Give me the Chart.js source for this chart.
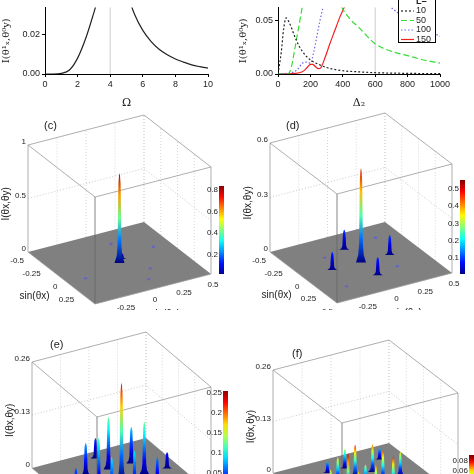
<!DOCTYPE html>
<html>
<head>
<meta charset="utf-8">
<script src="https://cdn.jsdelivr.net/npm/chart.js@4/dist/chart.umd.min.js"></script>
<style>
body { margin: 0; background: #fff; width: 474px; height: 474px; overflow: hidden; position: relative; }
.p { position: absolute; }
</style>
</head>
<body>
<div class="p" style="left:0;top:0;width:220px;height:110px"><canvas id="a"></canvas></div>
<div class="p" style="left:237px;top:0;width:237px;height:110px"><canvas id="b"></canvas></div>
<div class="p" style="left:0;top:110px;width:237px;height:200px"><canvas id="c"></canvas></div>
<div class="p" style="left:237px;top:110px;width:237px;height:200px"><canvas id="d"></canvas></div>
<div class="p" style="left:0;top:310px;width:237px;height:164px"><canvas id="e"></canvas></div>
<div class="p" style="left:237px;top:310px;width:237px;height:164px"><canvas id="f"></canvas></div>
<script>
const FONT = 'Liberation Sans'

// panel (a)
const omega = [0, 0.5, 1, 1.5, 2, 2.5, 3, 3.5, 4, 4.3, 4.6, 5, 5.5, 6, 6.5, 7, 7.5, 8, 8.5, 9, 9.5, 10]
const a_vals = [0, 0, 0.0003, 0.002, 0.008, 0.018, 0.031, 0.045, 0.057, 0.06, 0.056, 0.042, 0.030, 0.022, 0.0165, 0.0125, 0.0097, 0.0076, 0.006, 0.0046, 0.0037, 0.003]
const a_yticks = [0, 0.02]

// panel (b)
const b_labels = ['10', '50', '100', '150']
const b_yticks = [0, 0.05]
const b_x10 = [0, 20, 35, 50, 65, 80, 100, 130, 160, 200, 250, 300, 400, 500, 600, 800, 1000]
const b_y10 = [0, 0.02, 0.042, 0.052, 0.049, 0.044, 0.036, 0.026, 0.019, 0.013, 0.009, 0.006, 0.003, 0.002, 0.0012, 0.0006, 0.0003]
const b_x50 = [0, 60, 80, 100, 115, 130, 150, 200, 250, 300, 350, 400, 450, 500, 600, 700, 800, 900, 1000]
const b_y50 = [0, 0, 0.005, 0.02, 0.033, 0.045, 0.062, 0.09, 0.1, 0.09, 0.075, 0.06, 0.05, 0.043, 0.028, 0.021, 0.017, 0.013, 0.010]
const b_x100 = [0, 100, 130, 150, 180, 200, 220, 240, 260, 280, 320, 400, 500, 600, 800, 1000]
const b_y100 = [0, 0.002, 0.006, 0.01, 0.011, 0.01, 0.02, 0.035, 0.05, 0.063, 0.085, 0.1, 0.09, 0.075, 0.05, 0.035]
const b_x150 = [0, 100, 150, 180, 200, 215, 230, 250, 265, 290, 320, 350, 380, 410, 450, 500, 600]
const b_y150 = [0, 0.0005, 0.002, 0.006, 0.009, 0.009, 0.007, 0.005, 0.006, 0.015, 0.028, 0.04, 0.052, 0.062, 0.075, 0.09, 0.1]

// panels (c)-(f): peaks as [sin(θx), sin(θy), I]
const c_peaks = [[0, 0, 0.84], [-0.05, 0.05, 0.05], [-0.3, 0.1, 0.02], [0.1, -0.35, 0.015], [-0.1, 0.35, 0.015], [0.35, 0.05, 0.015], [0.2, 0.15, 0.02]]
const d_peaks = [[0, 0, 0.52], [0, -0.25, 0.1], [-0.25, 0, 0.11], [0.25, 0, 0.1], [0, 0.25, 0.11], [-0.3, 0.3, 0.01], [0.3, -0.3, 0.01], [0.2, 0.2, 0.015], [-0.2, -0.2, 0.015]]
const e_peaks = [[0, 0, 0.24], [-0.2, 0, 0.13], [0.2, 0, 0.1], [0, -0.2, 0.12], [0, 0.2, 0.13], [-0.2, -0.2, 0.08], [0.2, 0.2, 0.07], [-0.2, 0.2, 0.09], [0.2, -0.2, 0.1], [-0.4, 0, 0.05], [0, -0.4, 0.06], [0.4, 0, 0.05], [0, 0.4, 0.04]]
const f_peaks = [[0, 0, 0.05], [-0.15, 0, 0.08], [0.15, 0, 0.07], [0, -0.15, 0.09], [0, 0.15, 0.075], [-0.15, -0.15, 0.06], [0.15, 0.15, 0.08], [-0.15, 0.15, 0.07], [0.15, -0.15, 0.065], [-0.3, 0, 0.05], [0, -0.3, 0.06], [0.3, 0, 0.055], [0, 0.3, 0.06], [-0.3, 0.3, 0.03], [0.3, -0.3, 0.03], [-0.3, -0.15, 0.03], [0.3, 0.15, 0.04]]
const sin_ticks = ['-0.5', '-0.25', '0', '0.25', '0.5']

function jet(t) {
    t = Math.max(0, Math.min(1, t))
    const r = Math.max(0, Math.min(1, 1.5 - Math.abs(4 * t - 3)))
    const g = Math.max(0, Math.min(1, 1.5 - Math.abs(4 * t - 2)))
    const b = Math.max(0, Math.min(1, 1.5 - Math.abs(4 * t - 1)))
    return `rgb(${Math.round(r * 255)},${Math.round(g * 255)},${Math.round(b * 255)})`
}

function centerLine(val) {
    return {
        id: 'centerLine',
        beforeDatasetsDraw(chart) {
            const x = chart.scales.x.getPixelForValue(val)
            const { top, bottom } = chart.chartArea
            const ctx = chart.ctx
            ctx.save()
            ctx.strokeStyle = '#ccc'
            ctx.lineWidth = 1
            ctx.beginPath(); ctx.moveTo(x, top); ctx.lineTo(x, bottom); ctx.stroke()
            ctx.restore()
        }
    }
}

function lineScales(xmin, xmax, xstep, ymax, yticks, yw, xtitle, ytitle) {
    return {
        x: {
            type: 'linear', min: xmin, max: xmax,
            ticks: { stepSize: xstep, color: '#222', font: { family: FONT, size: 9 }, padding: 2, callback: (v) => String(v) },
            grid: { display: true, drawOnChartArea: false, color: '#000', tickLength: 3 },
            border: { color: '#000' },
            title: { display: true, text: xtitle, color: '#222', font: { family: 'DejaVu Serif', size: 11 }, padding: 0 },
            afterFit: (s) => { s.height = 36 }
        },
        y: {
            min: 0, max: ymax,
            afterBuildTicks: (s) => { s.ticks = yticks.map((v) => ({ value: v })) },
            ticks: { color: '#222', font: { family: FONT, size: 9 }, padding: 2, callback: (v) => v.toFixed(2) },
            grid: { display: true, drawOnChartArea: false, color: '#000', tickLength: 3 },
            border: { color: '#000' },
            title: { display: true, text: ytitle, color: '#222', font: { family: 'DejaVu Serif', size: 10 }, padding: 0 },
            afterFit: (s) => { s.width = yw }
        }
    }
}

new Chart(document.querySelector('#a'), {
    type: 'line',
    data: {
        datasets: [{ data: omega.map((x, i) => ({ x, y: a_vals[i] })), borderColor: '#222', borderWidth: 1.2, pointRadius: 0, cubicInterpolationMode: 'monotone' }]
    },
    options: {
        animation: false, responsive: true, maintainAspectRatio: false,
        layout: { padding: { top: 0, right: 12, left: 0, bottom: 0 } },
        plugins: { legend: { display: false }, tooltip: { enabled: false } },
        scales: lineScales(0, 10, 2, 0.0336, a_yticks, 45, 'Ω', 'I(θ¹ₓ,θ⁰y)')
    },
    plugins: [centerLine(4)]
})

const b_series = [
    { x: b_x10, y: b_y10, color: '#222', dash: [2, 2] },
    { x: b_x50, y: b_y50, color: '#33dd33', dash: [6, 3] },
    { x: b_x100, y: b_y100, color: '#6666ee', dash: [1.5, 2] },
    { x: b_x150, y: b_y150, color: '#ee2222', dash: [] },
]

const legendB = {
    id: 'legendB',
    afterDraw(chart) {
        const ctx = chart.ctx
        const x0 = 398 - 237, y0 = -2, w = 37, h = 44
        ctx.save()
        ctx.fillStyle = '#fff'
        ctx.fillRect(x0, y0, w, h)
        ctx.strokeStyle = '#000'
        ctx.lineWidth = 1
        ctx.strokeRect(x0 + 0.5, y0 + 0.5, w, h)
        ctx.font = `bold 9px ${FONT}`
        ctx.fillStyle = '#222'
        ctx.textBaseline = 'middle'
        ctx.fillText('L=', x0 + 18, 2)
        ctx.font = `9px ${FONT}`
        chart.data.datasets.forEach((ds, i) => {
            const y = 11 + i * 9.5
            ctx.strokeStyle = ds.borderColor
            ctx.setLineDash(ds.borderDash)
            ctx.lineWidth = 1.2
            ctx.beginPath(); ctx.moveTo(x0 + 3, y); ctx.lineTo(x0 + 16, y); ctx.stroke()
            ctx.setLineDash([])
            ctx.fillText(ds.label, x0 + 18, y)
        })
        ctx.restore()
    }
}

new Chart(document.querySelector('#b'), {
    type: 'line',
    data: {
        datasets: b_series.map((s, i) => ({
            label: b_labels[i],
            data: s.x.map((x, j) => ({ x, y: s.y[j] })),
            borderColor: s.color, borderDash: s.dash, borderWidth: 1.2, pointRadius: 0,
            cubicInterpolationMode: 'monotone'
        }))
    },
    options: {
        animation: false, responsive: true, maintainAspectRatio: false,
        layout: { padding: { top: 0, right: 34, left: 0, bottom: 0 } },
        plugins: { legend: { display: false }, tooltip: { enabled: false } },
        scales: lineScales(0, 1000, 200, 0.0617, b_yticks, 41, 'Δ₂', 'I(θ¹ₓ,θ⁰y)')
    },
    plugins: [centerLine(600), legendB]
})

// 3D panels
const panels = [
    { id: 'c', ox: 0, oy: 110, w: 237, h: 200, peaks: c_peaks, L: [28, 252], FL: [67, 52], RF: [116, -30], hz: 107, zmax: 1, zticks: ['0', '0.5', '1'], cmax: 0.85,
      bar: { x: 219, top: 186, vtop: 0.84, bottom: 274, vbot: 0.02, ticks: [0.2, 0.4, 0.6, 0.8] }, tag: '(c)', tagPos: [44, 126], bw: 5 },
    { id: 'd', ox: 237, oy: 110, w: 237, h: 200, peaks: d_peaks, L: [270, 252], FL: [67, 51], RF: [115, -30], hz: 109, zmax: 0.6, zticks: ['0', '0.3', '0.6'], cmax: 0.55,
      bar: { x: 460, top: 180, vtop: 0.55, bottom: 274, vbot: 0.008, ticks: [0.1, 0.2, 0.3, 0.4, 0.5] }, tag: '(d)', tagPos: [286, 126], bw: 5 },
    { id: 'e', ox: 0, oy: 310, w: 237, h: 164, peaks: e_peaks, L: [32, 468], FL: [65, 55], RF: [114, -30], hz: 106, zmax: 0.26, zticks: ['0', '0.13', '0.26'], cmax: 0.26,
      bar: { x: 223, top: 391, vtop: 0.255, bottom: 480, vbot: 0.033, ticks: [0.05, 0.1, 0.15, 0.2, 0.25] }, tag: '(e)', tagPos: [50, 345], bw: 5 },
    { id: 'f', ox: 237, oy: 310, w: 237, h: 164, peaks: f_peaks, L: [273, 473], FL: [69, 53], RF: [116, -30], hz: 103, zmax: 0.26, zticks: ['0', '0.13', '0.26'], cmax: 0.09,
      bar: { x: 469, top: 455, vtop: 0.093, bottom: 480, vbot: 0.04, ticks: [0.06, 0.08] }, tag: '(f)', tagPos: [292, 354], bw: 4.5 },
]

function draw3d(p) {
    return {
        id: 'draw3d',
        afterDatasetsDraw(chart) {
            const ctx = chart.ctx
            const sx = chart.scales.x, sy = chart.scales.y
            const P = (a, b, z) => {
                const u = a + 0.5, v = b + 0.5
                const gx = p.L[0] + u * p.FL[0] + v * p.RF[0]
                const gy = p.L[1] + u * p.FL[1] + v * p.RF[1] - (z / p.zmax) * p.hz
                return [sx.getPixelForValue(gx - p.ox), sy.getPixelForValue(gy - p.oy)]
            }
            const G = (gx, gy) => [sx.getPixelForValue(gx - p.ox), sy.getPixelForValue(gy - p.oy)]
            const line = (pts, color, dash, lw) => {
                ctx.strokeStyle = color; ctx.setLineDash(dash || []); ctx.lineWidth = lw || 0.8
                ctx.beginPath(); pts.forEach((q, i) => i ? ctx.lineTo(q[0], q[1]) : ctx.moveTo(q[0], q[1])); ctx.stroke()
                ctx.setLineDash([])
            }
            ctx.save()
            const zt = p.zmax
            for (const t of [-0.25, 0, 0.25]) {
                line([P(-0.5, t, 0), P(-0.5, t, zt)], '#ccc', [1, 2])
                line([P(t, 0.5, 0), P(t, 0.5, zt)], '#ccc', [1, 2])
                line([P(-0.5, t, 0), P(0.5, t, 0)], '#ccc', [1, 2])
                line([P(t, -0.5, 0), P(t, 0.5, 0)], '#ccc', [1, 2])
            }
            line([P(-0.5, -0.5, zt / 2), P(-0.5, 0.5, zt / 2), P(0.5, 0.5, zt / 2)], '#bbb', [1, 2])
            line([P(-0.5, 0.5, 0), P(-0.5, 0.5, zt)], '#aaa', [1, 2])
            const fl = [P(-0.5, -0.5, 0), P(0.5, -0.5, 0), P(0.5, 0.5, 0), P(-0.5, 0.5, 0)]
            ctx.fillStyle = '#808080'
            ctx.beginPath(); fl.forEach((q, i) => i ? ctx.lineTo(q[0], q[1]) : ctx.moveTo(q[0], q[1])); ctx.closePath(); ctx.fill()
            line([P(-0.5, -0.5, 0), P(-0.5, -0.5, zt)], '#999')
            line([P(0.5, 0.5, 0), P(0.5, 0.5, zt)], '#999')
            line([P(-0.5, -0.5, zt), P(-0.5, 0.5, zt), P(0.5, 0.5, zt), P(0.5, -0.5, zt), P(-0.5, -0.5, zt)], '#999')
            const pk = p.peaks.slice().sort((m, n) => (m[0] - m[1] * 0.3) - (n[0] - n[1] * 0.3))
            for (const [a, b, z] of pk) {
                const base = P(a, b, 0), tip = P(a, b, z)
                const hgt = base[1] - tip[1]
                if (z < 0.03) {
                    ctx.fillStyle = 'rgba(90,90,220,0.8)'
                    ctx.fillRect(base[0] - 1.5, base[1] - 1.5, 3, 2)
                    continue
                }
                const hw = p.bw
                const grad = ctx.createLinearGradient(0, base[1], 0, tip[1])
                const tmax = z / p.cmax
                for (let k = 0; k <= 4; k++) grad.addColorStop(k / 4, jet(tmax * k / 4 * 0.97))
                ctx.fillStyle = grad
                // profile: wide blue foot, then a narrow column up to a rounded tip
                const prof = [[0, 1], [0.08, 0.55], [0.2, 0.38], [0.6, 0.3], [0.88, 0.22], [0.97, 0.1], [1, 0]]
                ctx.beginPath()
                prof.forEach(([f, wf], i) => {
                    const x = base[0] - hw * wf, y = base[1] - hgt * f
                    i ? ctx.lineTo(x, y) : ctx.moveTo(x, y)
                })
                for (let i = prof.length - 2; i >= 0; i--) {
                    const [f, wf] = prof[i]
                    ctx.lineTo(base[0] + hw * wf, base[1] - hgt * f)
                }
                ctx.closePath(); ctx.fill()
            }
            line([P(0.5, -0.5, 0), P(0.5, -0.5, zt)], '#666')
            line([P(-0.5, -0.5, 0), P(0.5, -0.5, 0), P(0.5, 0.5, 0)], '#999')
            ctx.fillStyle = '#222'
            ctx.font = `8px ${FONT}`
            ctx.textAlign = 'right'; ctx.textBaseline = 'middle'
            p.zticks.forEach((t, i) => {
                const q = P(-0.5, -0.5, zt * i / 2)
                ctx.fillText(t, q[0] - 2, q[1] - 3)
            })
            sin_ticks.forEach((t, i) => {
                const v = -0.5 + i * 0.25
                const q = P(v, -0.5, 0)
                ctx.textAlign = 'right'
                ctx.fillText(t, q[0] - 4, q[1] + 9)
                const r = P(0.5, v, 0)
                ctx.textAlign = 'center'
                ctx.fillText(t, r[0] + 2, r[1] + 11)
            })
            ctx.font = `10px ${FONT}`
            const tx = P(0.15, -0.5, 0), ty = P(0.5, -0.05, 0)
            ctx.textAlign = 'right'
            ctx.fillText('sin(θx)', tx[0] - 22, tx[1] + 10)
            ctx.textAlign = 'center'
            ctx.fillText('sin(θy)', ty[0] + 18, ty[1] + 24)
            const zl = P(-0.5, -0.5, zt * 0.45)
            ctx.save()
            ctx.translate(zl[0] - 22, zl[1])
            ctx.rotate(-Math.PI / 2)
            ctx.fillText('I(θx,θy)', 0, 0)
            ctx.restore()
            const bar = p.bar
            const [bx, btop] = G(bar.x, bar.top)
            const bbot = G(bar.x, bar.bottom)[1]
            const bg = ctx.createLinearGradient(0, bbot, 0, btop)
            for (let k = 0; k <= 8; k++) bg.addColorStop(k / 8, jet((bar.vbot + (bar.vtop - bar.vbot) * k / 8) / p.cmax))
            ctx.fillStyle = bg
            ctx.fillRect(bx, btop, 5, bbot - btop)
            ctx.fillStyle = '#222'
            ctx.font = `8px ${FONT}`
            ctx.textAlign = 'right'
            bar.ticks.forEach((t) => {
                const y = btop + (bar.vtop - t) / (bar.vtop - bar.vbot) * (bbot - btop)
                ctx.fillText(String(t), bx - 1, y)
            })
            ctx.font = `11px ${FONT}`
            ctx.textAlign = 'left'
            const tg = G(p.tagPos[0], p.tagPos[1])
            ctx.fillText(p.tag, tg[0], tg[1])
            ctx.restore()
        }
    }
}

for (const p of panels) {
    new Chart(document.querySelector('#' + p.id), {
        type: 'scatter',
        data: { datasets: [{ data: p.peaks.map((q) => ({ x: q[0], y: q[1] })), pointRadius: 0 }] },
        options: {
            animation: false, responsive: true, maintainAspectRatio: false,
            layout: { padding: 0 },
            plugins: { legend: { display: false }, tooltip: { enabled: false } },
            scales: {
                x: { type: 'linear', display: false, min: 0, max: p.w },
                y: { type: 'linear', display: false, min: 0, max: p.h, reverse: true },
            }
        },
        plugins: [draw3d(p)]
    })
}
</script>
</body>
</html>
